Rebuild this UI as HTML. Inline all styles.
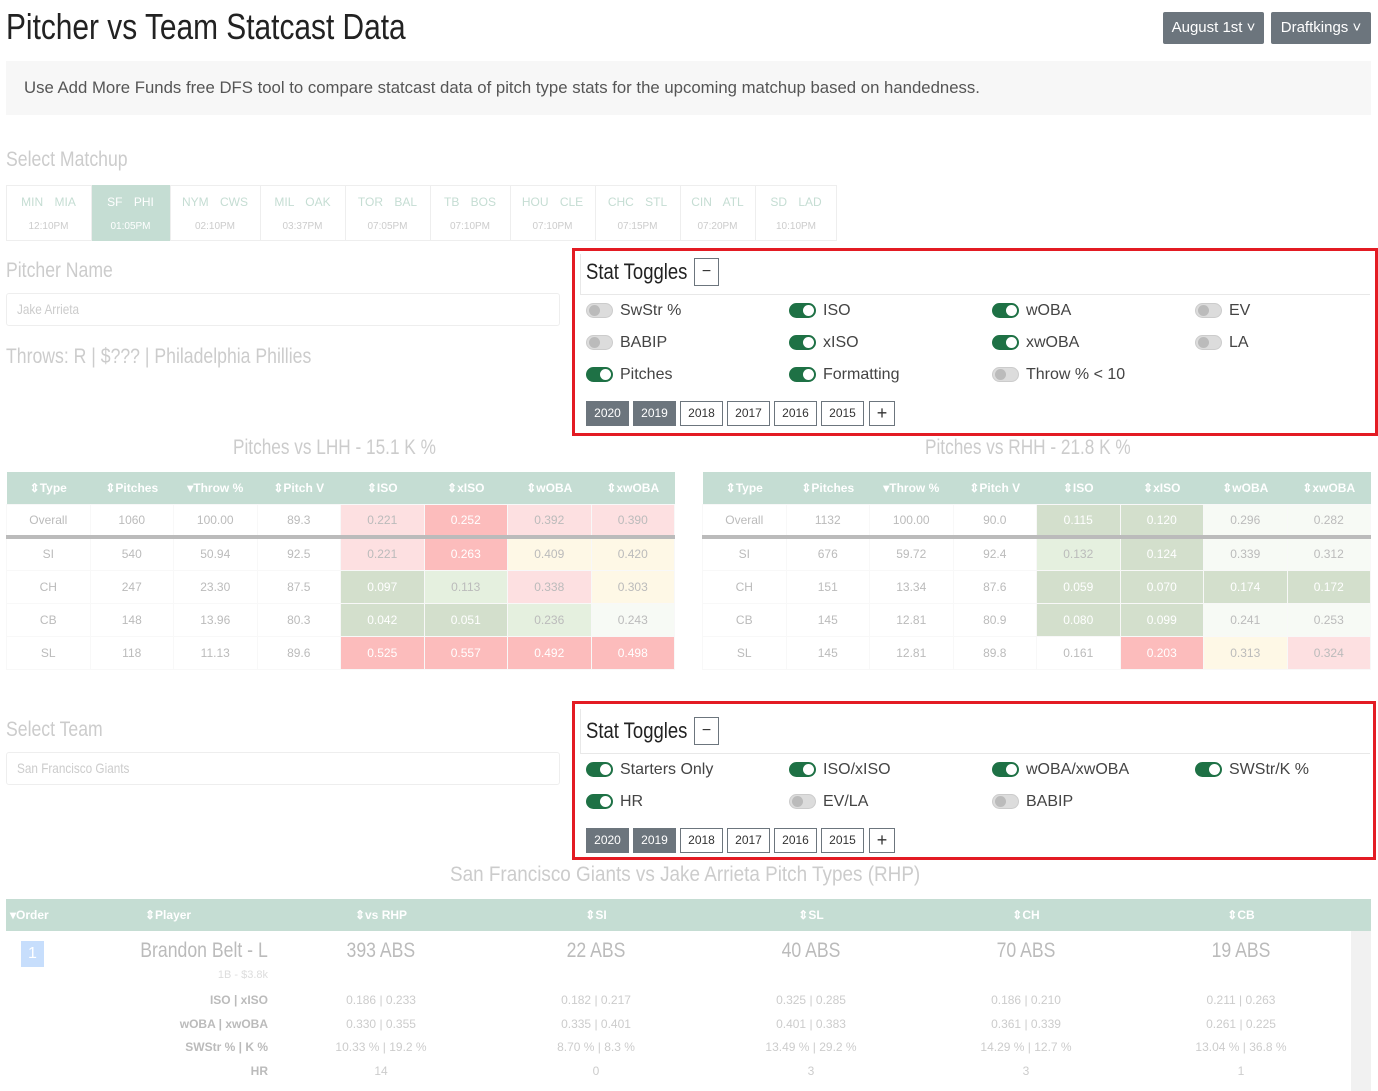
<!DOCTYPE html>
<html><head><meta charset="utf-8"><style>
*{box-sizing:border-box;margin:0;padding:0}
body{width:1378px;height:1091px;background:#fff;font-family:"Liberation Sans",sans-serif;position:relative;overflow:hidden;color:#ccc}
.a{position:absolute;white-space:nowrap}
.cond{transform-origin:left center;transform:scaleX(.84)}
.btn{position:absolute;background:#6c757d;color:#fff;font-size:15px;text-align:center;line-height:32px;height:32px;border-radius:2px}
.lbl{color:#ccc;font-size:21px}
.tbl{position:absolute;border-collapse:collapse;font-size:12px;color:#bbb;table-layout:fixed}
.tbl th{background:#c5ddd3;color:#fff;height:32px;font-size:12px;font-weight:bold}
.tbl td{height:33px;text-align:center;border:1px solid #f8f8f8}
.tbl tr.ov td{border-bottom:4px solid #bbb}
.dp{background:#fcbcbc;color:#fff}.lp{background:#fde0e1}.ye{background:#fef8e6}.lg{background:#e5f0df}.mg{background:#d3dfcc;color:#fff}.vl{background:#f7faf5}
.box{position:absolute;border:3px solid #e31b23}
.tg{position:absolute;font-size:16px;color:#444;line-height:18px}
.sw{display:inline-block;width:27px;height:15px;border-radius:8px;position:absolute;left:0;top:1px}
.sw.on{background:#1e7145}.sw.off{background:#dcdcdc;border:1px solid #ccc}
.sw::after{content:"";position:absolute;top:2px;width:11px;height:11px;border-radius:50%;background:#fff}
.sw.on::after{right:2px}.sw.off::after{left:2px;background:#bbb;top:1px}
.tg span{margin-left:34px}
.yb{position:absolute;height:25px;width:43px;border:1px solid #6c757d;font-size:12px;line-height:23px;text-align:center;color:#333;background:#fff}
.yb.d{background:#6c757d;color:#fff}
</style></head><body>
<div class="a cond" style="left:6px;top:6px;font-size:36px;color:#222;transform:scaleX(.83)">Pitcher vs Team Statcast Data</div>
<div class="btn" style="left:1163px;top:12px;width:101px">August 1st ˅</div>
<div class="btn" style="left:1271px;top:12px;width:100px">Draftkings ˅</div>
<div class="a" style="left:6px;top:61px;width:1365px;height:54px;background:#f7f7f7"></div>
<div class="a" style="left:24px;top:78px;font-size:17px;color:#555;transform-origin:left center;transform:scaleX(.985)">Use Add More Funds free DFS tool to compare statcast data of pitch type stats for the upcoming matchup based on handedness.</div>
<div class="a cond lbl" style="left:6px;top:148px">Select Matchup</div>
<div class="a" style="left:6px;top:185px;width:831px;height:56px;border:1px solid #eee"></div>
<div class="a" style="left:91px;top:185px;width:79px;height:56px;background:#c5ddd3"></div>
<div id="mu"></div>
<div class="a cond lbl" style="left:6px;top:259px">Pitcher Name</div>
<div class="a" style="left:6px;top:293px;width:554px;height:33px;border:1px solid #eee;border-radius:3px"></div>
<div class="a cond" style="left:17px;top:301px;font-size:14px;color:#ccc">Jake Arrieta</div>
<div class="a cond lbl" style="left:6px;top:345px">Throws: R | $??? | Philadelphia Phillies</div>
<div class="a cond lbl" style="left:233px;top:436px;transform:scaleX(.82)">Pitches vs LHH - 15.1 K %</div>
<div class="a cond lbl" style="left:925px;top:436px;transform:scaleX(.82)">Pitches vs RHH - 21.8 K %</div>

<table class="tbl" style="left:6px;top:472px;width:668px">
<colgroup><col span="8" style="width:83.5px"></colgroup>
<tr><th>⇕Type</th><th>⇕Pitches</th><th>▾Throw %</th><th>⇕Pitch V</th><th>⇕ISO</th><th>⇕xISO</th><th>⇕wOBA</th><th>⇕xwOBA</th></tr>
<tr class="ov"><td>Overall</td><td>1060</td><td>100.00</td><td>89.3</td><td class="lp">0.221</td><td class="dp">0.252</td><td class="lp">0.392</td><td class="lp">0.390</td></tr>
<tr><td>SI</td><td>540</td><td>50.94</td><td>92.5</td><td class="lp">0.221</td><td class="dp">0.263</td><td class="ye">0.409</td><td class="ye">0.420</td></tr>
<tr><td>CH</td><td>247</td><td>23.30</td><td>87.5</td><td class="mg">0.097</td><td class="lg">0.113</td><td class="lp">0.338</td><td class="ye">0.303</td></tr>
<tr><td>CB</td><td>148</td><td>13.96</td><td>80.3</td><td class="mg">0.042</td><td class="mg">0.051</td><td class="lg">0.236</td><td class="vl">0.243</td></tr>
<tr><td>SL</td><td>118</td><td>11.13</td><td>89.6</td><td class="dp">0.525</td><td class="dp">0.557</td><td class="dp">0.492</td><td class="dp">0.498</td></tr>
</table>
<table class="tbl" style="left:702px;top:472px;width:668px">
<colgroup><col span="8" style="width:83.5px"></colgroup>
<tr><th>⇕Type</th><th>⇕Pitches</th><th>▾Throw %</th><th>⇕Pitch V</th><th>⇕ISO</th><th>⇕xISO</th><th>⇕wOBA</th><th>⇕xwOBA</th></tr>
<tr class="ov"><td>Overall</td><td>1132</td><td>100.00</td><td>90.0</td><td class="mg">0.115</td><td class="mg">0.120</td><td class="vl">0.296</td><td class="vl">0.282</td></tr>
<tr><td>SI</td><td>676</td><td>59.72</td><td>92.4</td><td class="lg">0.132</td><td class="mg">0.124</td><td class="vl">0.339</td><td class="vl">0.312</td></tr>
<tr><td>CH</td><td>151</td><td>13.34</td><td>87.6</td><td class="mg">0.059</td><td class="mg">0.070</td><td class="mg">0.174</td><td class="mg">0.172</td></tr>
<tr><td>CB</td><td>145</td><td>12.81</td><td>80.9</td><td class="mg">0.080</td><td class="mg">0.099</td><td class="vl">0.241</td><td class="vl">0.253</td></tr>
<tr><td>SL</td><td>145</td><td>12.81</td><td>89.8</td><td>0.161</td><td class="dp">0.203</td><td class="ye">0.313</td><td class="lp">0.324</td></tr>
</table>

<div class="box" style="left:572px;top:248px;width:806px;height:188px"></div>
<div class="a" style="left:580px;top:254px;width:790px;height:41px;border:1px solid #e8e8e8;border-right:none;border-top:none"></div>
<div class="a cond" style="left:586px;top:259px;font-size:22px;color:#222">Stat Toggles</div>
<div class="a" style="left:694px;top:258px;width:25px;height:28px;border:1px solid #6c757d;text-align:center;line-height:26px;color:#333">−</div>
<div class="tg" style="left:586px;top:302px"><i class="sw off"></i><span>SwStr %</span></div>
<div class="tg" style="left:789px;top:302px"><i class="sw on"></i><span>ISO</span></div>
<div class="tg" style="left:992px;top:302px"><i class="sw on"></i><span>wOBA</span></div>
<div class="tg" style="left:1195px;top:302px"><i class="sw off"></i><span>EV</span></div>
<div class="tg" style="left:586px;top:334px"><i class="sw off"></i><span>BABIP</span></div>
<div class="tg" style="left:789px;top:334px"><i class="sw on"></i><span>xISO</span></div>
<div class="tg" style="left:992px;top:334px"><i class="sw on"></i><span>xwOBA</span></div>
<div class="tg" style="left:1195px;top:334px"><i class="sw off"></i><span>LA</span></div>
<div class="tg" style="left:586px;top:366px"><i class="sw on"></i><span>Pitches</span></div>
<div class="tg" style="left:789px;top:366px"><i class="sw on"></i><span>Formatting</span></div>
<div class="tg" style="left:992px;top:366px"><i class="sw off"></i><span>Throw % &lt; 10</span></div>
<div class="yb d" style="left:586px;top:401px">2020</div><div class="yb d" style="left:633px;top:401px">2019</div><div class="yb" style="left:680px;top:401px">2018</div><div class="yb" style="left:727px;top:401px">2017</div><div class="yb" style="left:774px;top:401px">2016</div><div class="yb" style="left:821px;top:401px">2015</div><div class="yb" style="left:869px;top:401px;width:26px;font-size:18px">+</div>

<div class="a cond lbl" style="left:6px;top:718px">Select Team</div>
<div class="a" style="left:6px;top:752px;width:554px;height:33px;border:1px solid #eee;border-radius:3px"></div>
<div class="a cond" style="left:17px;top:760px;font-size:14px;color:#ccc">San Francisco Giants</div>

<div class="box" style="left:572px;top:701px;width:804px;height:159px"></div>
<div class="a" style="left:580px;top:709px;width:790px;height:45px;border:1px solid #e8e8e8;border-right:none;border-top:none"></div>
<div class="a cond" style="left:586px;top:718px;font-size:22px;color:#222">Stat Toggles</div>
<div class="a" style="left:694px;top:717px;width:25px;height:28px;border:1px solid #6c757d;text-align:center;line-height:26px;color:#333">−</div>
<div class="tg" style="left:586px;top:761px"><i class="sw on"></i><span>Starters Only</span></div>
<div class="tg" style="left:789px;top:761px"><i class="sw on"></i><span>ISO/xISO</span></div>
<div class="tg" style="left:992px;top:761px"><i class="sw on"></i><span>wOBA/xwOBA</span></div>
<div class="tg" style="left:1195px;top:761px"><i class="sw on"></i><span>SWStr/K %</span></div>
<div class="tg" style="left:586px;top:793px"><i class="sw on"></i><span>HR</span></div>
<div class="tg" style="left:789px;top:793px"><i class="sw off"></i><span>EV/LA</span></div>
<div class="tg" style="left:992px;top:793px"><i class="sw off"></i><span>BABIP</span></div>
<div class="yb d" style="left:586px;top:828px">2020</div><div class="yb d" style="left:633px;top:828px">2019</div><div class="yb" style="left:680px;top:828px">2018</div><div class="yb" style="left:727px;top:828px">2017</div><div class="yb" style="left:774px;top:828px">2016</div><div class="yb" style="left:821px;top:828px">2015</div><div class="yb" style="left:869px;top:828px;width:26px;font-size:18px">+</div>

<div class="a cond lbl" style="left:450px;top:863px;transform:scaleX(.9)">San Francisco Giants vs Jake Arrieta Pitch Types (RHP)</div>
<div class="a" style="left:6px;top:899px;width:1365px;height:32px;background:#c5ddd3"></div>
<div class="a" style="left:1351px;top:931px;width:20px;height:160px;background:#f1f1f1"></div>
<div class="a" style="left:10px;top:908px;font-size:12px;font-weight:bold;color:#fff">▾Order</div>
<div class="a" style="left:145px;top:908px;font-size:12px;font-weight:bold;color:#fff">⇕Player</div>
<div id="bh"></div>
<div class="a" style="left:21px;top:941px;width:23px;height:26px;background:#c7defc;color:#fff;text-align:center;line-height:26px;font-size:16px">1</div>
<div class="a" style="left:60px;top:939px;width:208px;text-align:right;font-size:21px;color:#bbb"><span class="cond" style="display:inline-block;transform-origin:right center">Brandon Belt - L</span></div>
<div class="a" style="left:60px;top:969px;width:208px;text-align:right;font-size:11px;color:#ddd">1B - $3.8k</div>
<div class="a" style="left:60px;top:989px;width:208px;text-align:right;font-size:12px;font-weight:bold;color:#bbb;line-height:23.5px">ISO | xISO<br>wOBA | xwOBA<br>SWStr % | K %<br>HR</div>
<div id="bc"></div>
<script>
var mu=[["MIN","MIA","12:10PM",6,85],["SF","PHI","01:05PM",91,79],["NYM","CWS","02:10PM",170,90],["MIL","OAK","03:37PM",260,85],["TOR","BAL","07:05PM",345,85],["TB","BOS","07:10PM",430,80],["HOU","CLE","07:10PM",510,85],["CHC","STL","07:15PM",595,85],["CIN","ATL","07:20PM",680,75],["SD","LAD","10:10PM",755,82]];
var h="";mu.forEach(function(m,i){var c=i==1?"#fff":"#c5ddd3";h+='<div class="a" style="left:'+m[3]+'px;top:195px;width:'+m[4]+'px;text-align:center;font-size:12px;color:'+c+';word-spacing:8px">'+m[0]+' '+m[1]+'</div><div class="a" style="left:'+m[3]+'px;top:221px;width:'+m[4]+'px;text-align:center;font-size:10px;color:'+(i==1?"#fff":"#ccc")+'">'+m[2]+'</div>';if(i>0)h+='<div class="a" style="left:'+m[3]+'px;top:185px;width:1px;height:56px;background:#eee"></div>';});
document.getElementById("mu").innerHTML=h;
var cols=[["vs RHP",381,"393 ABS","0.186 | 0.233","0.330 | 0.355","10.33 % | 19.2 %","14"],["SI",596,"22 ABS","0.182 | 0.217","0.335 | 0.401","8.70 % | 8.3 %","0"],["SL",811,"40 ABS","0.325 | 0.285","0.401 | 0.383","13.49 % | 29.2 %","3"],["CH",1026,"70 ABS","0.186 | 0.210","0.361 | 0.339","14.29 % | 12.7 %","3"],["CB",1241,"19 ABS","0.211 | 0.263","0.261 | 0.225","13.04 % | 36.8 %","1"]];
var b="",c="";cols.forEach(function(k){var x=k[1]-100;b+='<div class="a" style="left:'+x+'px;width:200px;text-align:center;top:908px;font-size:12px;font-weight:bold;color:#fff">⇕'+k[0]+'</div>';
c+='<div class="a" style="left:'+x+'px;width:200px;text-align:center;top:939px;font-size:21px;color:#bbb"><span class="cond" style="display:inline-block;transform-origin:center">'+k[2]+'</span></div>';
c+='<div class="a" style="left:'+x+'px;width:200px;text-align:center;top:989px;font-size:12px;color:#ccc;line-height:23.5px">'+k[3]+'<br>'+k[4]+'<br>'+k[5]+'<br>'+k[6]+'</div>';});
document.getElementById("bh").innerHTML=b;document.getElementById("bc").innerHTML=c;
</script>
</body></html>
